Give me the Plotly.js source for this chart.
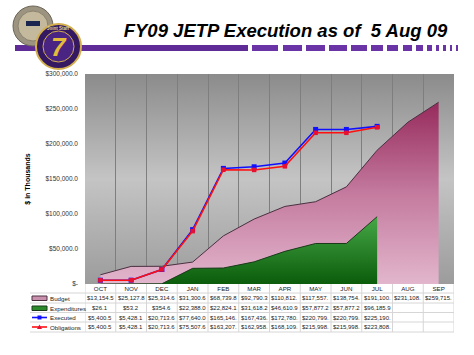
<!DOCTYPE html>
<html>
<head>
<meta charset="utf-8">
<script src="https://cdn.plot.ly/plotly-3.0.1.min.js"></script>
<style>html,body{margin:0;padding:0;background:#fff;}#chart{width:474px;height:355px;}</style>
</head>
<body>
<div id="chart"></div>
<script>
// ---- data ----
const categories = ['OCT','NOV','DEC','JAN','FEB','MAR','APR','MAY','JUN','JUL','AUG','SEP'];
const budget = [13154.5, 25127.8, 25314.6, 31300.6, 68739.8, 92790.3, 110812.0, 117557.0, 138754.0, 191100.0, 231108.0, 259715.0];
const expenditures = [26.1, 53.2, 354.6, 22388.0, 22824.1, 31618.2, 46610.9, 57877.2, 57877.2, 96185.9, null, null];
const executed = [5400.5, 5428.1, 20713.6, 77640.0, 165146.0, 167436.0, 172780.0, 220799.0, 220799.0, 225190.0, null, null];
const obligations = [5400.5, 5428.1, 20713.6, 75507.6, 163207.0, 162958.0, 168109.0, 215998.0, 215998.0, 223808.0, null, null];
const seriesNames = ['Budget','Expenditures','Executed','Obligations'];
const yTickVals = [0, 50000, 100000, 150000, 200000, 250000, 300000];
const yTickText = ['$-', '$50,000.0', '$100,000.0', '$150,000.0', '$200,000.0', '$250,000.0', '$300,000.0'];
const titleText = 'FY09 JETP Execution as of  5 Aug 09';

// ---- geometry helpers (layout only) ----
const W = 474, H = 355, L = 85, R = 454, T = 74, B = 284;
const xp = px => (px - L) / (R - L);
const yp = py => (B - py) / (B - T);

function fmt(v) {
  const neg = v < 0; v = Math.abs(v);
  const fixed = v.toFixed(1);
  let [ip, dp] = fixed.split('.');
  ip = ip.replace(/\B(?=(\d{3})+(?!\d))/g, ',');
  return ('$' + ip + '.' + dp).slice(0, 9);
}

const FONT = 'Liberation Sans, Arial, Helvetica, sans-serif';

const traces = [
  {
    type: 'scatter', x: categories, y: budget, name: 'Budget', mode: 'lines',
    fill: 'tozeroy',
    fillgradient: {type: 'vertical', start: 0, stop: 260000,
      colorscale: [[0, '#e2b6cc'], [0.5, '#c47a9e'], [1, '#962a5c']]},
    line: {color: '#4a3040', width: 1}, hoverinfo: 'skip'
  },
  {
    type: 'scatter', x: categories, y: expenditures, name: 'Expenditures', mode: 'lines',
    fill: 'tozeroy',
    fillgradient: {type: 'vertical', start: 0, stop: 96186,
      colorscale: [[0, '#0b5c0b'], [1, '#46a846']]},
    line: {color: '#1a3a1a', width: 1}, hoverinfo: 'skip'
  },
  {
    type: 'scatter', x: categories, y: executed, name: 'Executed', mode: 'lines+markers',
    line: {color: '#1010ff', width: 1.6},
    marker: {symbol: 'square', size: 5, color: '#1010ff'}
  },
  {
    type: 'scatter', x: categories, y: obligations, name: 'Obligations', mode: 'lines+markers',
    line: {color: '#ff1010', width: 1.6},
    marker: {symbol: 'square', size: 4.5, color: '#e81030'}
  }
];

// background gradient for plot area
const bgSvg = '<svg xmlns="http://www.w3.org/2000/svg" width="100" height="100" preserveAspectRatio="none">' +
  '<defs><linearGradient id="g" x1="0" y1="0" x2="0" y2="1">' +
  '<stop offset="0" stop-color="#8b8b8b"/><stop offset="0.5" stop-color="#c4c4c4"/><stop offset="1" stop-color="#9c9c9c"/>' +
  '</linearGradient></defs><rect width="100" height="100" fill="url(#g)"/></svg>';
const bgUri = 'data:image/svg+xml;charset=utf-8,' + encodeURIComponent(bgSvg);

const shapes = [];
const annotations = [];

// ---- header decoration: purple bar with blocks ----
const barColor = '#5f2b96';
shapes.push({type: 'rect', xref: 'paper', yref: 'paper', x0: xp(15), x1: xp(248), y0: yp(45), y1: yp(51), fillcolor: barColor, line: {width: 0}});
const blocks = [[252,278],[283,302],[306,325],[329,347],[351,367],[371,383],[387,398],[403,412],[416,423],[427,432],[436,439],[443,446],[450,452],[456,458]];
blocks.forEach(b => shapes.push({type: 'rect', xref: 'paper', yref: 'paper', x0: xp(b[0]), x1: xp(b[1]), y0: yp(45), y1: yp(51), fillcolor: '#6a34a6', line: {width: 0}}));

// logo seals
shapes.push({type: 'circle', xref: 'paper', yref: 'paper', x0: xp(13), x1: xp(53), y0: yp(6), y1: yp(46), fillcolor: '#9c9480', line: {color: '#6a6456', width: 1}});
shapes.push({type: 'circle', xref: 'paper', yref: 'paper', x0: xp(18), x1: xp(48), y0: yp(11), y1: yp(41), fillcolor: '#c4b99c', line: {color: '#8a826e', width: 1}});
shapes.push({type: 'rect', xref: 'paper', yref: 'paper', x0: xp(26), x1: xp(40), y0: yp(21), y1: yp(26), fillcolor: '#1c2450', line: {width: 0}});
shapes.push({type: 'circle', xref: 'paper', yref: 'paper', x0: xp(36), x1: xp(81), y0: yp(24), y1: yp(69), fillcolor: '#351862', line: {color: '#d2ae4c', width: 2}});
shapes.push({type: 'circle', xref: 'paper', yref: 'paper', x0: xp(43), x1: xp(74), y0: yp(31), y1: yp(62), fillcolor: '#4a2482', line: {color: '#d2ae4c', width: 1}});
annotations.push({xref: 'paper', yref: 'paper', x: xp(58.5), y: yp(47), text: '7', showarrow: false,
  font: {family: FONT, size: 26, color: '#e2bc3a', weight: 'bold', style: 'italic'}, xanchor: 'center', yanchor: 'middle'});
annotations.push({xref: 'paper', yref: 'paper', x: xp(58.5), y: yp(28.5), text: 'Joint Staff', showarrow: false,
  font: {family: FONT, size: 4.5, color: '#e8d08a', weight: 'bold'}, xanchor: 'center', yanchor: 'middle'});

// ---- data table ----
const rowY = [298, 308, 317.5, 327];
const rowLines = [293, 303, 312.5, 322, 332];
const rowData = [budget, expenditures, executed, obligations];
rowLines.forEach(py => shapes.push({type: 'line', xref: 'paper', yref: 'paper', x0: xp(30), x1: 1, y0: yp(py), y1: yp(py), line: {color: '#d6d6d6', width: 1}}));
for (let i = 0; i <= categories.length; i++) {
  shapes.push({type: 'line', xref: 'x', yref: 'paper', x0: i - 0.5, x1: i - 0.5, y0: 0, y1: yp(332), line: {color: '#d6d6d6', width: 1}});
}
rowData.forEach((arr, r) => {
  annotations.push({xref: 'paper', yref: 'paper', x: xp(48), y: yp(rowY[r]), text: seriesNames[r], showarrow: false,
    font: {family: FONT, size: 6.2, color: '#222'}, xanchor: 'left', yanchor: 'middle'});
  arr.forEach((v, i) => {
    if (v === null) return;
    annotations.push({xref: 'x', yref: 'paper', x: categories[i], y: yp(rowY[r]), text: fmt(v), showarrow: false,
      font: {family: FONT, size: 6, color: '#222'}, xanchor: 'center', yanchor: 'middle'});
  });
});
// legend keys
shapes.push({type: 'rect', xref: 'paper', yref: 'paper', x0: xp(32), x1: xp(47), y0: yp(296), y1: yp(300.5), fillcolor: '#c890ac', line: {color: '#4a3040', width: 1}});
shapes.push({type: 'rect', xref: 'paper', yref: 'paper', x0: xp(32), x1: xp(47), y0: yp(306), y1: yp(310.5), fillcolor: '#2a8a2a', line: {color: '#1a3a1a', width: 1}});
shapes.push({type: 'line', xref: 'paper', yref: 'paper', x0: xp(32), x1: xp(47), y0: yp(317.5), y1: yp(317.5), line: {color: '#1010ff', width: 1.6}});
shapes.push({type: 'rect', xref: 'paper', yref: 'paper', x0: xp(37.5), x1: xp(41.5), y0: yp(315.5), y1: yp(319.5), fillcolor: '#1010ff', line: {width: 0}});
shapes.push({type: 'line', xref: 'paper', yref: 'paper', x0: xp(32), x1: xp(47), y0: yp(327), y1: yp(327), line: {color: '#ff1010', width: 1.6}});
shapes.push({type: 'path', xref: 'paper', yref: 'paper',
  path: 'M ' + xp(39.5) + ' ' + yp(324.5) + ' L ' + xp(42) + ' ' + yp(329) + ' L ' + xp(37) + ' ' + yp(329) + ' Z',
  fillcolor: '#e81030', line: {width: 0}});

const layout = {
  width: W, height: H,
  margin: {l: L, r: W - R, t: T, b: H - B, pad: 0},
  paper_bgcolor: '#ffffff',
  plot_bgcolor: 'rgba(0,0,0,0)',
  showlegend: false,
  font: {family: FONT, color: '#222'},
  title: {text: titleText, x: 285.5 / W, xref: 'container', xanchor: 'center', y: 1 - 31 / H, yref: 'container', yanchor: 'middle',
    font: {family: FONT, size: 18.5, color: '#000', weight: 'bold', style: 'italic'}},
  xaxis: {type: 'category', range: [-0.5, categories.length - 0.5], tickson: 'boundaries', ticks: '', showgrid: true,
    gridcolor: '#7e7e7e', gridwidth: 1, showline: false, zeroline: false, fixedrange: true,
    tickfont: {family: FONT, size: 6.2, color: '#222'}},
  yaxis: {range: [0, 300000], tickvals: yTickVals, ticktext: yTickText, showgrid: false, zeroline: false, showline: false,
    ticks: '', ticklabelstandoff: 6, tickfont: {family: FONT, size: 6.5, color: '#333'},
    title: {text: '$ in Thousands', standoff: 14, font: {family: FONT, size: 7, color: '#000', weight: 'bold'}}},
  images: [{source: bgUri, xref: 'paper', yref: 'paper', x: 0, y: 1, sizex: 1, sizey: 1, sizing: 'stretch', xanchor: 'left', yanchor: 'top', layer: 'below'}],
  shapes: shapes,
  annotations: annotations
};

Plotly.newPlot('chart', traces, layout, {displayModeBar: false, staticPlot: true});
</script>
</body>
</html>
